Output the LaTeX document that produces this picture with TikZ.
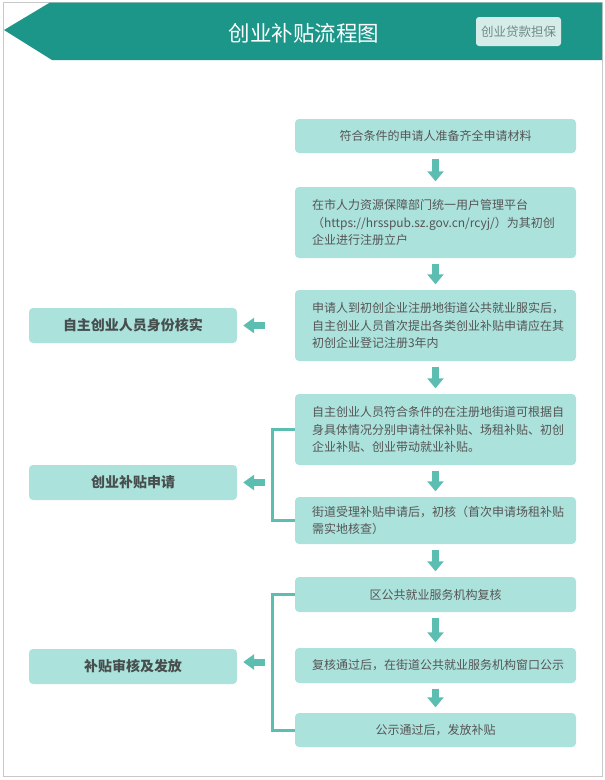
\documentclass[tikz,border=0pt]{standalone}
\usepackage{fontspec}
\setmainfont{Noto Sans CJK SC}
\usetikzlibrary{arrows.meta}
\definecolor{bannerc}{RGB}{27,150,137}
\definecolor{boxfill}{RGB}{172,226,220}
\definecolor{arrowc}{RGB}{92,190,177}
\definecolor{txtc}{RGB}{85,85,85}
\definecolor{ltxtc}{RGB}{70,78,78}
\definecolor{framec}{RGB}{200,200,200}
\definecolor{btnfill}{RGB}{214,236,232}
\definecolor{btntxt}{RGB}{110,140,135}
\begin{document}
\begin{tikzpicture}[x=1pt,y=-1pt,
  rbox/.style={fill=boxfill, rounded corners=4pt, minimum width=281pt, text width=247pt,
    inner xsep=17pt, inner ysep=0pt, text=txtc, font=\fontsize{12}{17.5}\selectfont},
  lbox/.style={fill=boxfill, rounded corners=4pt, minimum width=208pt, minimum height=35pt,
    inner sep=0pt, text=ltxtc, font=\fontsize{14}{16}\selectfont\bfseries},
  dnarrow/.style={draw=arrowc, line width=7pt, -{Triangle[width=16pt,length=10pt]},
    shorten <=5.5pt, shorten >=5.5pt},
  lfarrow/.style={draw=arrowc, line width=7pt, -{Triangle[width=15pt,length=11pt]}},
  bracketline/.style={draw=arrowc, line width=3pt}
]
\useasboundingbox (0,0) rectangle (605,780);
\fill[white] (0,0) rectangle (605,780);
\draw[framec, line width=1pt] (3,2) rectangle (602,776);
\fill[bannerc] (4,30) -- (50,2.5) -- (602,2.5) -- (602,60) -- (52,60) -- cycle;
\node[text=white, font=\fontsize{21.5}{24}\selectfont] (title) at (304,33) {创业补贴流程图};
\node[fill=btnfill, rounded corners=3pt, minimum width=85pt, minimum height=29pt, inner sep=0pt,
  text=btntxt, font=\fontsize{12.5}{14}\selectfont] (btn) at (518.5,31.5) {创业贷款担保};

\node[rbox, align=center, minimum height=34pt] (b1) at (435.5,136) {符合条件的申请人准备齐全申请材料};
\node[rbox, align=left, minimum height=71pt] (b2) at (435.5,222.5) {在市人力资源保障部门统一用户管理平台\\（https://hrsspub.sz.gov.cn/rcyj/）为其初创\\企业进行注册立户};
\node[rbox, align=left, minimum height=71pt] (b3) at (435.5,325.5) {申请人到初创企业注册地街道公共就业服实后，\\自主创业人员首次提出各类创业补贴申请应在其\\初创企业登记注册3年内};
\node[rbox, align=left, minimum height=71pt] (b4) at (435.5,429.5) {自主创业人员符合条件的在注册地街道可根据自\\身具体情况分别申请社保补贴、场租补贴、初创\\企业补贴、创业带动就业补贴。};
\node[rbox, align=left, minimum height=47pt] (b5) at (435.5,520.5) {街道受理补贴申请后，初核（首次申请场租补贴\\需实地核查）};
\node[rbox, align=center, minimum height=35pt] (b6) at (435.5,594.5) {区公共就业服务机构复核};
\node[rbox, align=center, minimum height=35pt] (b7) at (435.5,665.5) {复核通过后，在街道公共就业服务机构窗口公示};
\node[rbox, align=center, minimum height=34pt] (b8) at (435.5,730) {公示通过后，发放补贴};

\node[lbox] (L1) at (133,325.5) {自主创业人员身份核实};
\node[lbox] (L2) at (133,482.5) {创业补贴申请};
\node[lbox] (L3) at (133,666.5) {补贴审核及发放};

\draw[dnarrow] (b1) -- (b2);
\draw[dnarrow] (b2) -- (b3);
\draw[dnarrow] (b3) -- (b4);
\draw[dnarrow] (b4) -- (b5);
\draw[dnarrow] (b5) -- (b6);
\draw[dnarrow] (b6) -- (b7);
\draw[dnarrow] (b7) -- (b8);

\draw[lfarrow, shorten <=30pt, shorten >=6pt] (b3) -- (L1);

\draw[bracketline] (b4.west) -- ++(-22,0) |- (b5.west);
\coordinate (k2) at (273,482.5);
\draw[lfarrow, shorten <=8pt, shorten >=6pt] (k2) -- (L2.east);

\draw[bracketline] (b6.west) -- ++(-22,0) |- (b8.west);
\coordinate (k3) at (273,662);
\draw[lfarrow, shorten <=8pt, shorten >=6pt] (k3) -- (L3.east |- k3);
\end{tikzpicture}
\end{document}
